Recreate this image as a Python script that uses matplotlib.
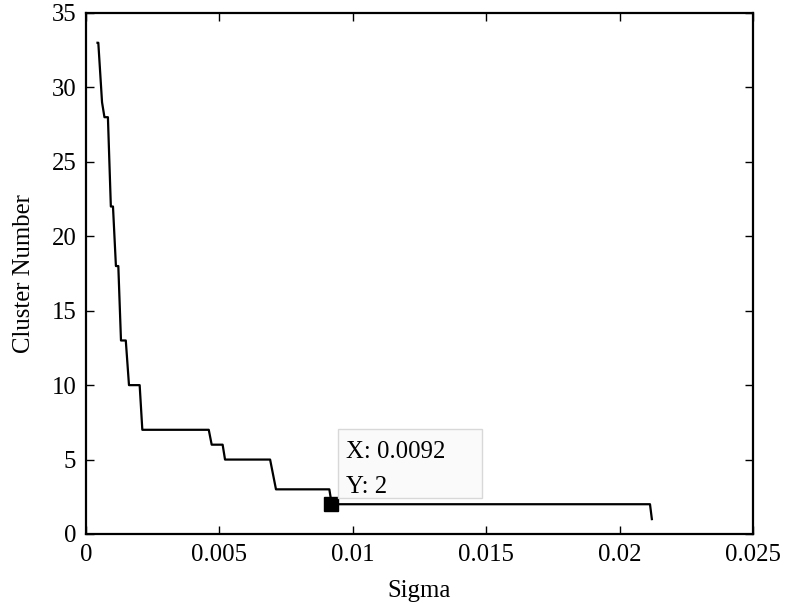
import numpy as np
import matplotlib.pyplot as plt
from matplotlib.patches import Rectangle

# cluster count against sigma
sigma = [0.00043, 0.00046, 0.00060, 0.00069, 0.00082, 0.00093, 0.00101,
         0.00112, 0.00121, 0.00131, 0.00149, 0.00161, 0.00201, 0.00211,
         0.00460, 0.00471, 0.00512, 0.00521, 0.00690, 0.00712, 0.00912,
         0.00921, 0.02114, 0.02121]
clusters = [33, 33, 29, 28, 28, 22, 22, 18, 18, 13, 13, 10, 10, 7,
            7, 6, 6, 5, 5, 3, 3, 2, 2, 1]

tip_x = 0.0092
tip_y = 2
xticks = [0, 0.005, 0.01, 0.015, 0.02, 0.025]
xticklabels = ['0', '0.005', '0.01', '0.015', '0.02', '0.025']
yticks = [0, 5, 10, 15, 20, 25, 30, 35]

plt.rcParams['font.family'] = ['Liberation Serif', 'DejaVu Serif']
plt.rcParams['font.size'] = 17.8

fig = plt.figure(figsize=(7.85, 6.04), dpi=100)
ax = fig.add_axes([0.1096, 0.1159, 0.8496, 0.8626])

ax.plot(sigma, clusters, color='black', lw=1.6)
ax.plot([tip_x], [tip_y], marker='s', ms=9.5, color='black', ls='none')

# data tip box
ax.add_patch(Rectangle((0.00943, 2.40), 0.00541, 4.63, facecolor='#fafafa',
                       edgecolor='#d8d8d8', lw=1.0, zorder=4))
ax.text(0.00975, 5.52, 'X: 0.0092', va='center', ha='left', zorder=5)
ax.text(0.00975, 3.15, 'Y: %d' % tip_y, va='center', ha='left', zorder=5)

ax.set_xlim(0, 0.025)
ax.set_ylim(0, 35)
ax.set_xticks(xticks)
ax.set_xticklabels(xticklabels)
ax.set_yticks(yticks)
ax.tick_params(direction='in', length=6, width=1.0, top=True, right=True,
               colors='black')
ax.tick_params(axis='x', pad=7)
ax.tick_params(axis='y', pad=7)
for s in ax.spines.values():
    s.set_linewidth(1.6)

ax.set_xlabel('Sigma', labelpad=10)
ax.set_ylabel('Cluster Number', labelpad=12)

fig.savefig('out.png', dpi=100)
